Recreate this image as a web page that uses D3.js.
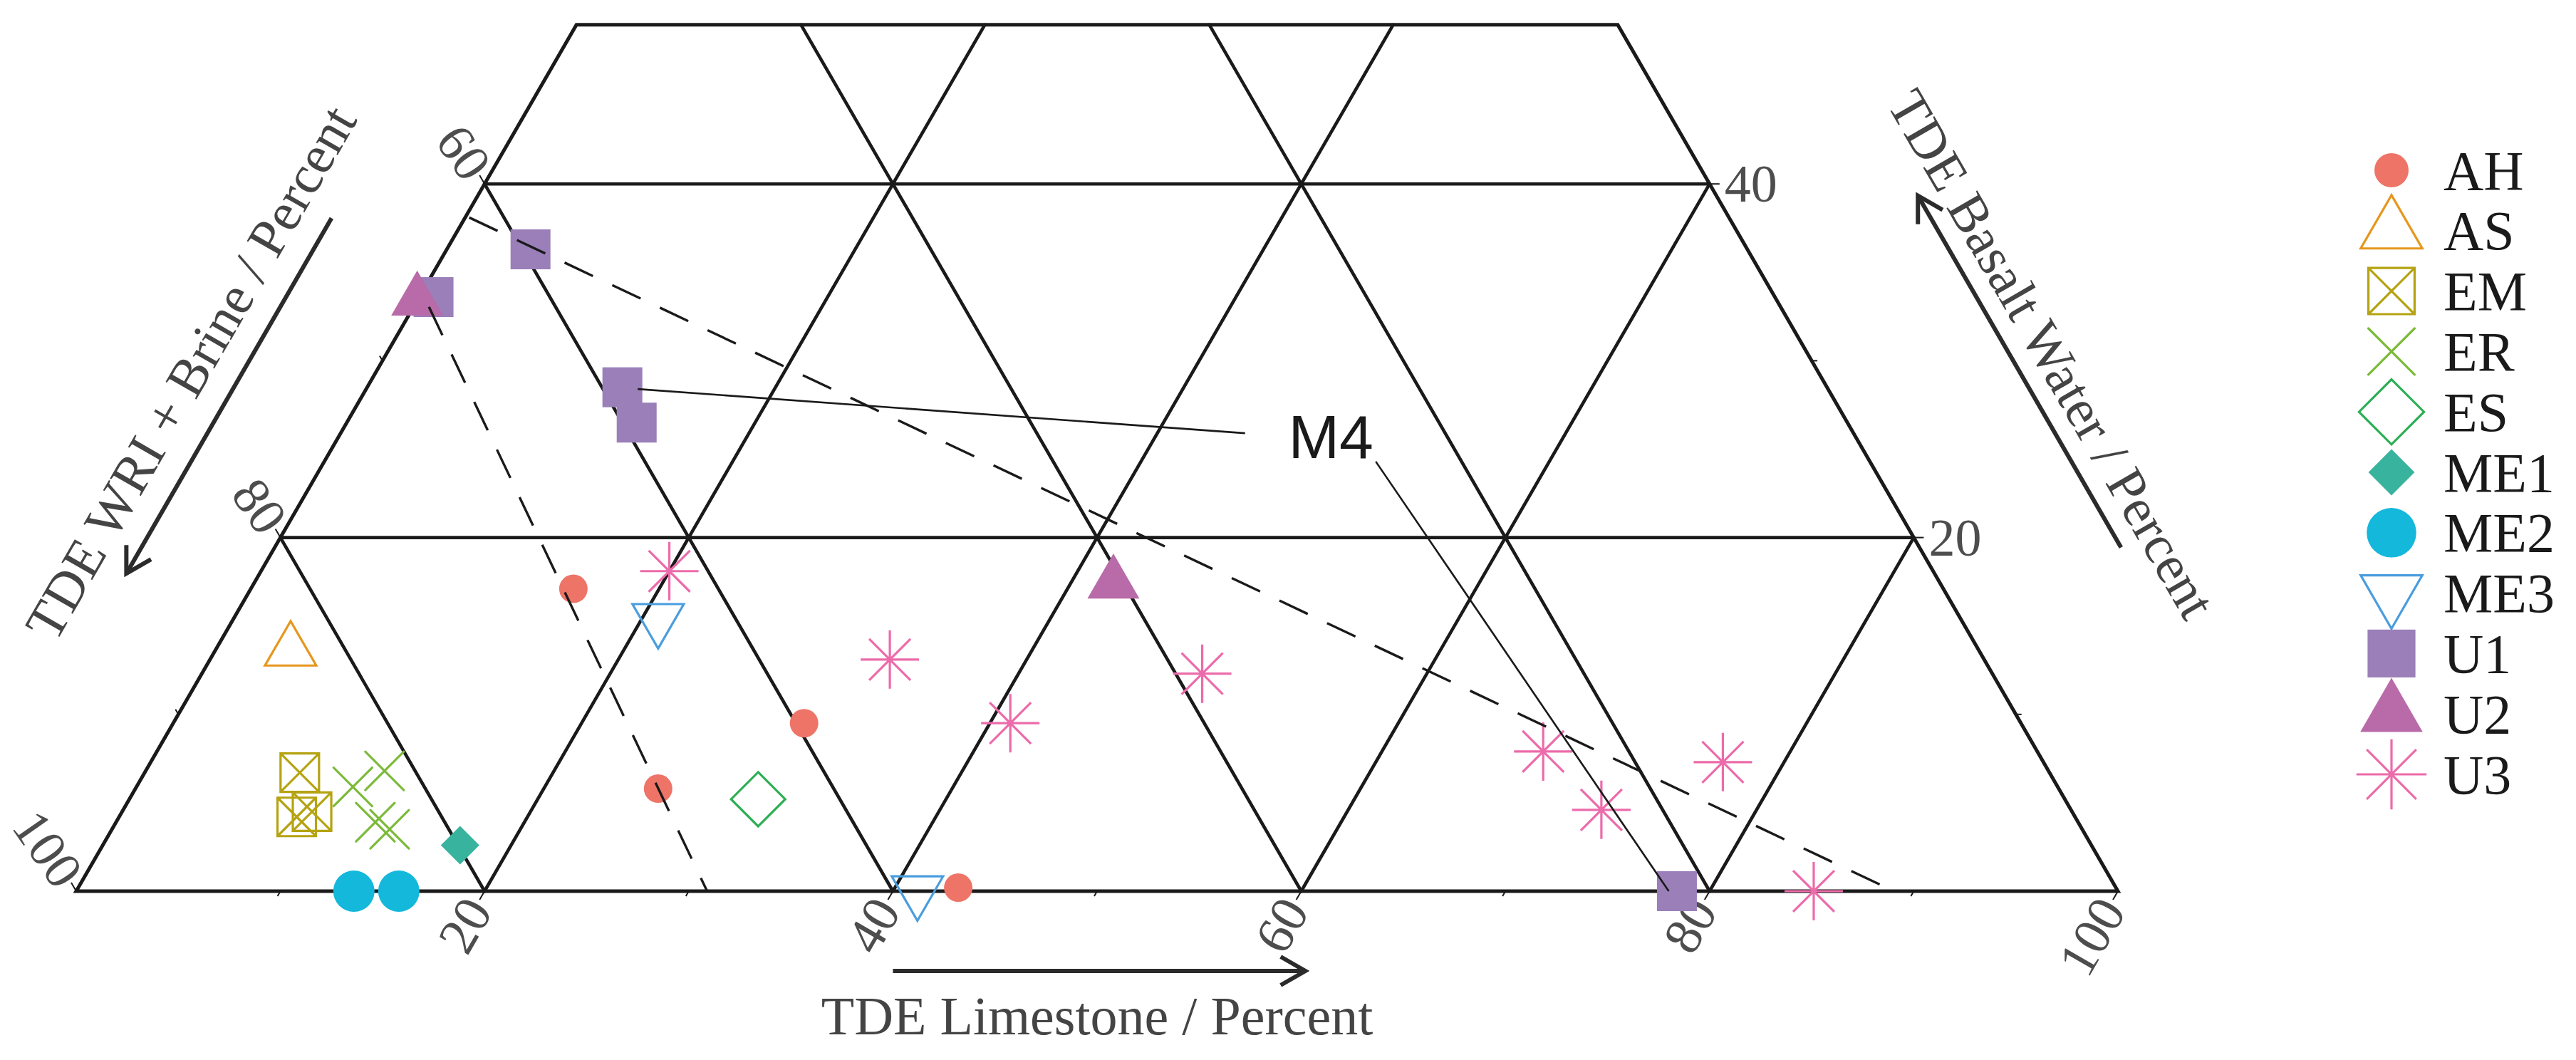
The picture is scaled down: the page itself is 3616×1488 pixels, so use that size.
<!DOCTYPE html>
<html><head><meta charset="utf-8">
<script src="https://cdn.jsdelivr.net/npm/d3@7"></script>
<style>html,body{margin:0;padding:0;background:#fff;} svg{display:block;}</style>
</head><body>
<svg id="chart" width="3616" height="1488"></svg>
<script>
// ---- data: each point is [TDE Limestone %, TDE Basalt Water %]; WRI + Brine = 100 - both ----
const groups = ["AH","AS","EM","ER","ES","ME1","ME2","ME3","U1","U2","U3"];
const groupColors = ["#ED7467","#E5971E","#B5A312","#7CBA3A","#2DAE55","#38B39E","#13B8DB","#4A9DDE","#9A7FB9","#B96AA8","#EC6BAA"];
const AH  = [[15.8,17.1],[30.9,9.5],[25.6,5.8],[43.1,0.2]];
const AS  = [[3.7,13.6]];
const EM  = [[7.6,6.7],[8.7,4.2],[9.3,4.5]];
const ER  = [[10.6,5.9],[11.7,6.8],[12.7,3.9],[13.6,3.5]];
const ES  = [[30.8,5.2]];
const ME1 = [[17.5,2.6]];
const ME2 = [[13.6,0],[15.8,0]];
const ME3 = [[20.8,15.4],[41.2,0]];
const U1  = [[4.1,36.3],[0.7,33.6],[12.5,28.5],[14.2,26.5],[78.4,0]];
const U2  = [[0,33.4],[42.1,17.4]];
const U3  = [[20.0,18.1],[33.3,13.1],[41.0,9.5],[49.0,12.3],[67.9,7.9],[72.4,4.6],[77.0,7.3],[85.1,0]];
const groupData = [AH,AS,EM,ER,ES,ME1,ME2,ME3,U1,U2,U3];

const limestoneTicks = [20,40,60,80,100];
const wriTicks = [100,80,60];
const basaltTicks = [20,40];
const minorTicks = [10,30,50,70,90];
const basaltMax = 49;

const dashedA = [[0.2,38.1],[88.8,0.1]];
const dashedB = [[0.75,33.05],[30.9,0]];
const leaderA = [[13.3,28.4],[44.3,25.9]];
const leaderB = [[51.5,24.3],[78.0,0]];
const m4Pos = [48.6,25.7];

// ---- scales ----
const svg = d3.select("#chart");
const S3 = Math.sqrt(3)/2;
const hScale = d3.scaleLinear().domain([0,100]).range([107,2973]);
const vScale = d3.scaleLinear().domain([0,100]).range([1251,1251-2866*S3]);
const proj = (L,B) => [hScale(L + B/2), vScale(B)];
const line = d3.line();

const INK = "#1a1a1a";
const gGrid = svg.append("g");

// grid lines
const seg = (a,b,w) => gGrid.append("path").attr("d", line([proj(...a),proj(...b)]))
  .attr("stroke",INK).attr("stroke-width",w||4.6).attr("fill","none").attr("stroke-linecap","round");
[20,40].forEach(b => seg([0,b],[100-b,b]));
[20,40,60,80].forEach(l => seg([l,0],[l,Math.min(basaltMax,100-l)]));
[80,60,40,20].forEach(w => { const t = 100-w, b = Math.min(basaltMax,t); seg([t,0],[t-b,b]); });
// boundary
gGrid.append("path").attr("d", line([proj(0,0),proj(100,0),proj(100-basaltMax,basaltMax),proj(0,basaltMax)]) + "Z")
  .attr("stroke",INK).attr("stroke-width",5).attr("fill","none").attr("stroke-linejoin","miter");

// ticks
const tickSeg = (p, dir, len) => gGrid.append("line")
  .attr("x1",p[0]).attr("y1",p[1]).attr("x2",p[0]+dir[0]*len).attr("y2",p[1]+dir[1]*len)
  .attr("stroke",INK).attr("stroke-width",2);
const dBase = [-0.5, S3], dLeft = [-0.5,-S3], dRight = [1,0];
limestoneTicks.forEach(l => tickSeg(proj(l,0), dBase, 14));
minorTicks.forEach(l => tickSeg(proj(l,0), dBase, 8));
[0,20,40].forEach(b => tickSeg(proj(0,b), dLeft, 14));
[10,30].forEach(b => tickSeg(proj(0,b), dLeft, 8));
basaltTicks.forEach(b => tickSeg(proj(100-b,b), dRight, 14));
[10,30].forEach(b => tickSeg(proj(100-b,b), dRight, 8));

// tick labels
const lab = svg.append("g").attr("font-family","Liberation Serif, Times New Roman, serif")
  .attr("font-size",74).attr("fill","#4d4d4d");
limestoneTicks.forEach(l => {
  const p = proj(l,0), d = 18;
  lab.append("text").attr("transform",`translate(${p[0]+dBase[0]*d},${p[1]+dBase[1]*d}) rotate(-60)`)
    .attr("text-anchor","end").attr("dominant-baseline","central").text(l);
});
wriTicks.forEach(w => {
  const b = 100-w, p = proj(0,b), d = 16;
  lab.append("text").attr("transform",`translate(${p[0]+dLeft[0]*d},${p[1]+dLeft[1]*d}) rotate(55)`)
    .attr("text-anchor","end").attr("dominant-baseline","central").text(w);
});
basaltTicks.forEach(b => {
  const p = proj(100-b,b);
  lab.append("text").attr("x",p[0]+21).attr("y",p[1]).attr("dominant-baseline","central").text(b);
});

// axis titles and arrows
const titles = svg.append("g").attr("font-family","Liberation Serif, Times New Roman, serif")
  .attr("font-size",76).attr("fill","#444");
const nL = [-S3,-0.5], nR = [S3,-0.5];
const off = (p,n,k) => [p[0]+n[0]*k, p[1]+n[1]*k];
function arrow(a,b){
  const g = svg.append("g").attr("stroke","#2b2b2b").attr("stroke-width",6).attr("fill","none").attr("stroke-linecap","butt");
  g.append("path").attr("d", line([a,b]));
  const dx=b[0]-a[0], dy=b[1]-a[1], len=Math.hypot(dx,dy), ux=dx/len, uy=dy/len;
  const ang = 30*Math.PI/180, h = 40;
  const w1 = [b[0]-h*(ux*Math.cos(ang)-uy*Math.sin(ang)), b[1]-h*(uy*Math.cos(ang)+ux*Math.sin(ang))];
  const w2 = [b[0]-h*(ux*Math.cos(ang)+uy*Math.sin(ang)), b[1]-h*(uy*Math.cos(ang)-ux*Math.sin(ang))];
  g.append("path").attr("d", line([w1,b,w2])).attr("stroke-linejoin","miter");
}
arrow(off(proj(0,34.8),nL,162), off(proj(0,14.7),nL,162));
arrow(off(proj(100-14.5,14.5),nR,245), off(proj(100-34.4,34.4),nR,245));
arrow([proj(40,0)[0], proj(40,0)[1]+112], [proj(60.2,0)[0], proj(60.2,0)[1]+112]);

const tl = off(proj(0,24.8),nL,225);
titles.append("text").attr("transform",`translate(${tl[0]},${tl[1]}) rotate(-60)`)
  .attr("text-anchor","middle").attr("dominant-baseline","central").text("TDE WRI + Brine / Percent");
const tr = off(proj(100-24.4,24.4),nR,297);
titles.append("text").attr("transform",`translate(${tr[0]},${tr[1]}) rotate(60)`)
  .attr("text-anchor","middle").attr("dominant-baseline","central").text("TDE Basalt Water / Percent");
titles.append("text").attr("x",proj(50,0)[0]).attr("y",proj(50,0)[1]+201)
  .attr("text-anchor","middle").text("TDE Limestone / Percent");

// ---- markers ----
function marker(g, type, color, k){
  const sw = 3.2;
  const tri = (a, down) => { const h = a*S3, s = down?-1:1;
    return `M0,${-s*2*h/3}L${a/2},${s*h/3}L${-a/2},${s*h/3}Z`; };
  switch(type){
    case "AH": g.append("circle").attr("r",20*k).attr("fill",color); break;
    case "ME2": g.append("circle").attr("r",29*k).attr("fill",color); break;
    case "AS": g.append("path").attr("d",tri(72*k,false)).attr("fill","none").attr("stroke",color).attr("stroke-width",sw); break;
    case "ME3": g.append("path").attr("d",tri(72*k,true)).attr("fill","none").attr("stroke",color).attr("stroke-width",sw); break;
    case "U2": g.append("path").attr("d",tri(73*k,false)).attr("fill",color); break;
    case "EM": { const r = 27*k;
      g.append("path").attr("d",`M${-r},${-r}H${r}V${r}H${-r}ZM${-r},${-r}L${r},${r}M${r},${-r}L${-r},${r}`)
        .attr("fill","none").attr("stroke",color).attr("stroke-width",sw); break; }
    case "ER": { const r = 27*k;
      g.append("path").attr("d",`M${-r},${-r}L${r},${r}M${r},${-r}L${-r},${r}`)
        .attr("fill","none").attr("stroke",color).attr("stroke-width",sw).attr("stroke-linecap","round"); break; }
    case "ES": { const r = 38*k;
      g.append("path").attr("d",`M0,${-r}L${r},0L0,${r}L${-r},0Z`).attr("fill","none").attr("stroke",color).attr("stroke-width",sw); break; }
    case "ME1": { const r = 27*k;
      g.append("path").attr("d",`M0,${-r}L${r},0L0,${r}L${-r},0Z`).attr("fill",color); break; }
    case "U1": { const r = 28*k;
      g.append("rect").attr("x",-r).attr("y",-r).attr("width",2*r).attr("height",2*r).attr("fill",color); break; }
    case "U3": { const r = 41*k, q = r*Math.SQRT1_2;
      g.append("path").attr("d",`M0,${-r}V${r}M${-r},0H${r}M${-q},${-q}L${q},${q}M${q},${-q}L${-q},${q}`)
        .attr("fill","none").attr("stroke",color).attr("stroke-width",sw); break; }
  }
}
const gPts = svg.append("g");
groups.forEach((grp,i) => {
  groupData[i].forEach(d => {
    const p = proj(d[0],d[1]);
    marker(gPts.append("g").attr("transform",`translate(${p[0]},${p[1]})`), grp, groupColors[i], 1);
  });
});

// ---- dashed mixing lines and M4 annotation ----
const gAnn = svg.append("g");
[dashedA,dashedB].forEach(d => gAnn.append("path").attr("d", line(d.map(p=>proj(...p))))
  .attr("stroke",INK).attr("stroke-width",3.4).attr("stroke-dasharray","44 30").attr("fill","none"));
[leaderA,leaderB].forEach(d => gAnn.append("path").attr("d", line(d.map(p=>proj(...p))))
  .attr("stroke",INK).attr("stroke-width",2.6).attr("fill","none"));
const mp = proj(...m4Pos);
gAnn.append("text").attr("x",mp[0]).attr("y",mp[1]).attr("text-anchor","middle").attr("dominant-baseline","central")
  .attr("font-family","Liberation Sans, Arial, sans-serif").attr("font-size",86).attr("fill",INK).text("M4");

// ---- legend ----
const gLeg = svg.append("g");
groups.forEach((grp,i) => {
  const y = 239 + i*84.8;
  marker(gLeg.append("g").attr("transform",`translate(3357,${y})`), grp, groupColors[i], 1.2);
  gLeg.append("text").attr("x",3430).attr("y",y).attr("dominant-baseline","central")
    .attr("font-family","Liberation Serif, Times New Roman, serif").attr("font-size",78).attr("fill","#1a1a1a").text(grp);
});
</script>
</body></html>
